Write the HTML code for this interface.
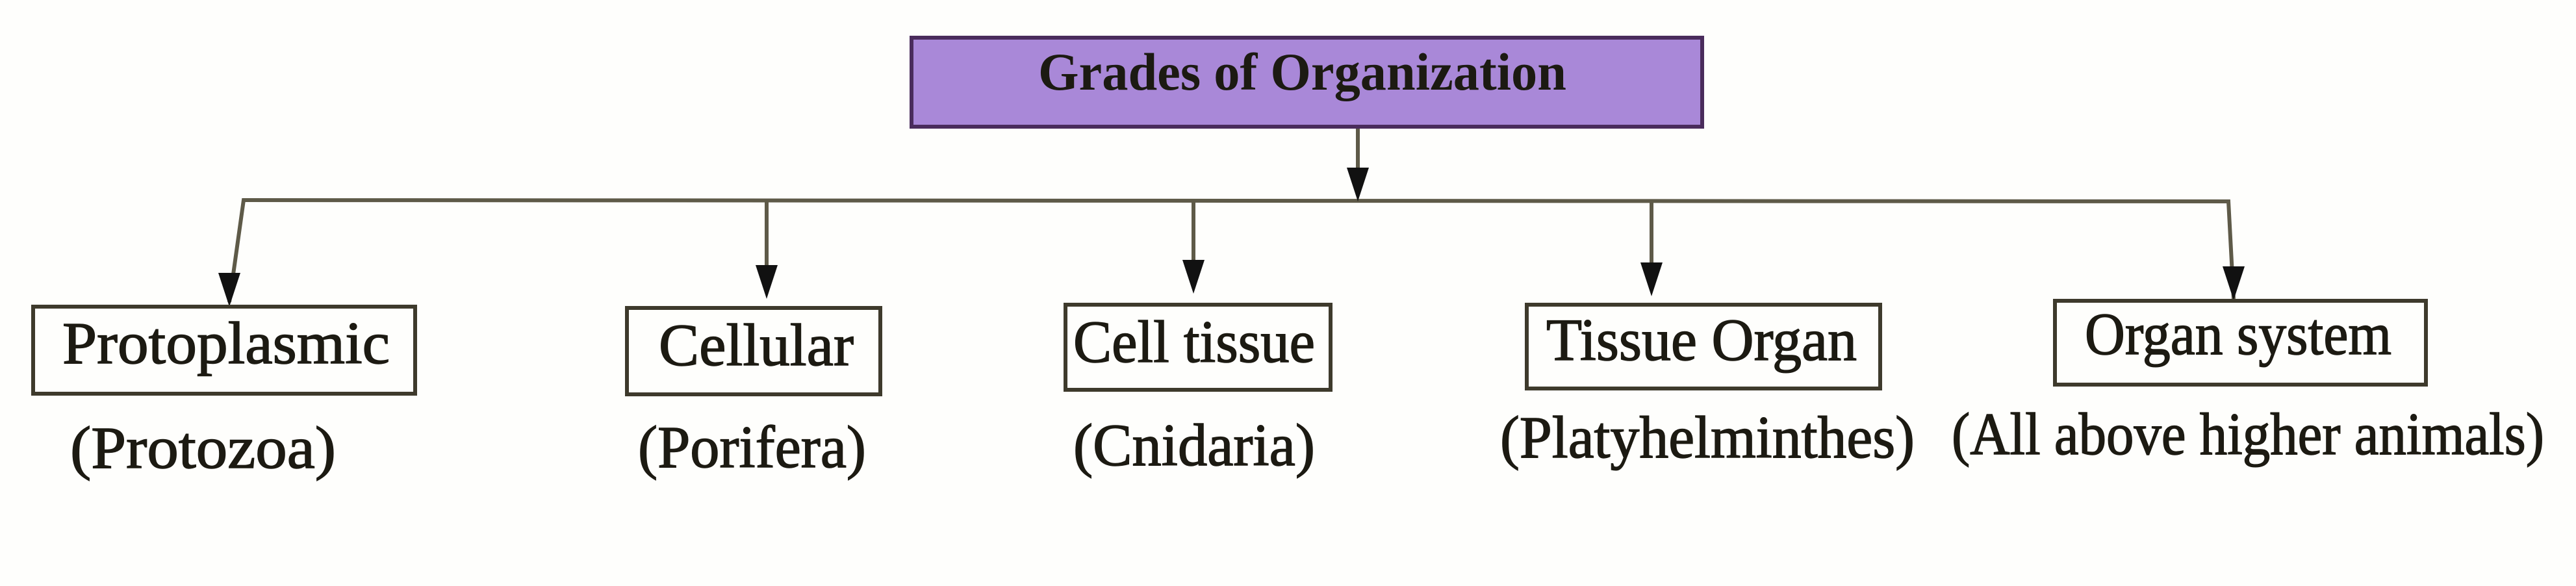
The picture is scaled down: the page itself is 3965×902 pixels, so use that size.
<!DOCTYPE html>
<html><head><meta charset="utf-8"><style>
html,body{margin:0;padding:0;background:#fff;}
svg{display:block;}
text{font-family:"Liberation Serif",serif;fill:#1c1a12;}
</style></head><body>
<svg width="3965" height="902" viewBox="0 0 3965 902" xmlns="http://www.w3.org/2000/svg">
<rect width="3965" height="902" fill="#fefefc"/>
<!-- title -->
<rect x="1403" y="58" width="1217" height="137" fill="#a988d8" stroke="#4a2c5c" stroke-width="6"/>
<text x="1598" y="138" font-size="82" font-weight="bold" textLength="813" lengthAdjust="spacingAndGlyphs">Grades of Organization</text>
<!-- connectors -->
<g stroke="#5e5a48" stroke-width="6" fill="none">
<line x1="2090" y1="198" x2="2090" y2="260" />
<polyline points="353,465 375,308 3430,310 3438,460"/>
<line x1="1180" y1="310" x2="1180" y2="410"/>
<line x1="1837" y1="310" x2="1837" y2="400"/>
<line x1="2542" y1="310" x2="2542" y2="405"/>
</g>
<path d="M2073,258 L2107,258 L2090,310 Z" fill="#111"/>
<path d="M336,420 L370,420 L353,472 Z" fill="#111"/>
<path d="M1163,408 L1197,408 L1180,460 Z" fill="#111"/>
<path d="M1820,400 L1854,400 L1837,452 Z" fill="#111"/>
<path d="M2525,404 L2559,404 L2542,456 Z" fill="#111"/>
<path d="M3421,410 L3455,410 L3438,462 Z" fill="#111"/>
<!-- boxes -->
<g fill="none" stroke="#3e3a2c" stroke-width="6">
<rect x="51" y="472" width="588" height="134"/>
<rect x="965" y="474" width="390" height="133"/>
<rect x="1640" y="469" width="408" height="131"/>
<rect x="2350" y="469" width="544" height="129"/>
<rect x="3163" y="463" width="571" height="129"/>
</g>
<g font-size="92" stroke="#1c1a12" stroke-width="1.5">
<text x="96" y="559" textLength="504" lengthAdjust="spacingAndGlyphs">Protoplasmic</text>
<text x="1014" y="562" textLength="300" lengthAdjust="spacingAndGlyphs">Cellular</text>
<text x="1652" y="557" textLength="372" lengthAdjust="spacingAndGlyphs">Cell tissue</text>
<text x="2380" y="554" textLength="478" lengthAdjust="spacingAndGlyphs">Tissue Organ</text>
<text x="3209" y="545" textLength="472" lengthAdjust="spacingAndGlyphs">Organ system</text>
<text x="108" y="720" textLength="409" lengthAdjust="spacingAndGlyphs">(Protozoa)</text>
<text x="982" y="719" textLength="351" lengthAdjust="spacingAndGlyphs">(Porifera)</text>
<text x="1652" y="716" textLength="372" lengthAdjust="spacingAndGlyphs">(Cnidaria)</text>
<text x="2309" y="704" textLength="638" lengthAdjust="spacingAndGlyphs">(Platyhelminthes)</text>
<text x="3004" y="699" textLength="912" lengthAdjust="spacingAndGlyphs">(All above higher animals)</text>
</g>
</svg>
</body></html>
